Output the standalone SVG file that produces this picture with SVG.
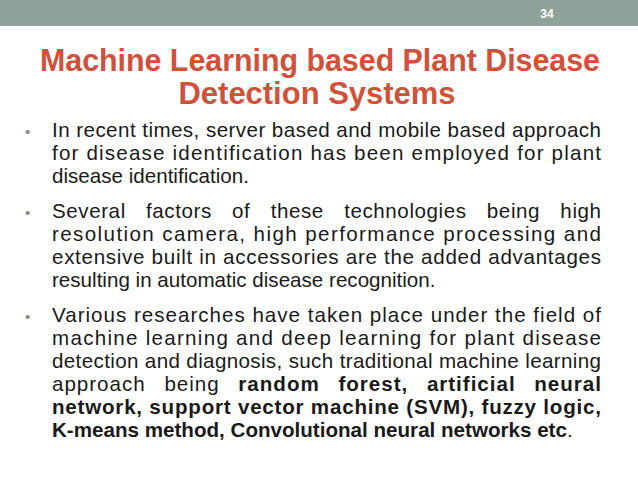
<svg xmlns="http://www.w3.org/2000/svg" width="638" height="478" viewBox="0 0 638 478">
<style>
.t{font-family:"Liberation Sans",Arial,sans-serif;font-size:20.6px;fill:#1a1a1a}
.b{font-weight:bold}
.bu{font-family:"Liberation Sans",Arial,sans-serif;font-size:15px;fill:#8a8a8a}
.h{font-family:"Liberation Sans",Arial,sans-serif;font-size:31px;font-weight:bold;fill:#d0513a;text-anchor:middle}
</style>
<rect width="638" height="478" fill="#fff"/>
<rect width="638" height="26" fill="#8fa39a"/>
<text x="547" y="18" font-family="Liberation Sans,Arial,sans-serif" font-size="12" font-weight="bold" fill="#fff" text-anchor="middle">34</text>
<text class="h" x="320" y="71" textLength="560" lengthAdjust="spacingAndGlyphs">Machine Learning based Plant Disease</text>
<text class="h" x="317" y="104" textLength="277" lengthAdjust="spacingAndGlyphs">Detection Systems</text>
<g>
<text class="bu" x="25" y="137">•</text>
<text class="t" x="52" y="137" textLength="549" lengthAdjust="spacing">In recent times, server based and mobile based approach</text>
<text class="t" x="52" y="160" textLength="549" lengthAdjust="spacing">for disease identification has been employed for plant</text>
<text class="t" x="52" y="183">disease identification.</text>
<text class="bu" x="25" y="218">•</text>
<text class="t" x="52" y="218" textLength="549" lengthAdjust="spacing" word-spacing="14">Several factors of these technologies being high</text>
<text class="t" x="52" y="241" textLength="549" lengthAdjust="spacing">resolution camera, high performance processing and</text>
<text class="t" x="52" y="264" textLength="549" lengthAdjust="spacing">extensive built in accessories are the added advantages</text>
<text class="t" x="52" y="287">resulting in automatic disease recognition.</text>
<text class="bu" x="25" y="322">•</text>
<text class="t" x="52" y="322" textLength="549" lengthAdjust="spacing">Various researches have taken place under the field of</text>
<text class="t" x="52" y="345" textLength="549" lengthAdjust="spacing">machine learning  and deep learning for plant disease</text>
<text class="t" x="52" y="368" textLength="549" lengthAdjust="spacing">detection and diagnosis, such traditional machine learning</text>
<text class="t" x="52" y="391" textLength="549" lengthAdjust="spacing" word-spacing="12">approach being <tspan class="b">random forest, artificial neural</tspan></text>
<text class="t b" x="52" y="414" textLength="549" lengthAdjust="spacing">network, support vector machine (SVM), fuzzy logic,</text>
<text class="t" x="52" y="437"><tspan class="b">K-means method, Convolutional neural networks etc</tspan>.</text>
</g>
</svg>
